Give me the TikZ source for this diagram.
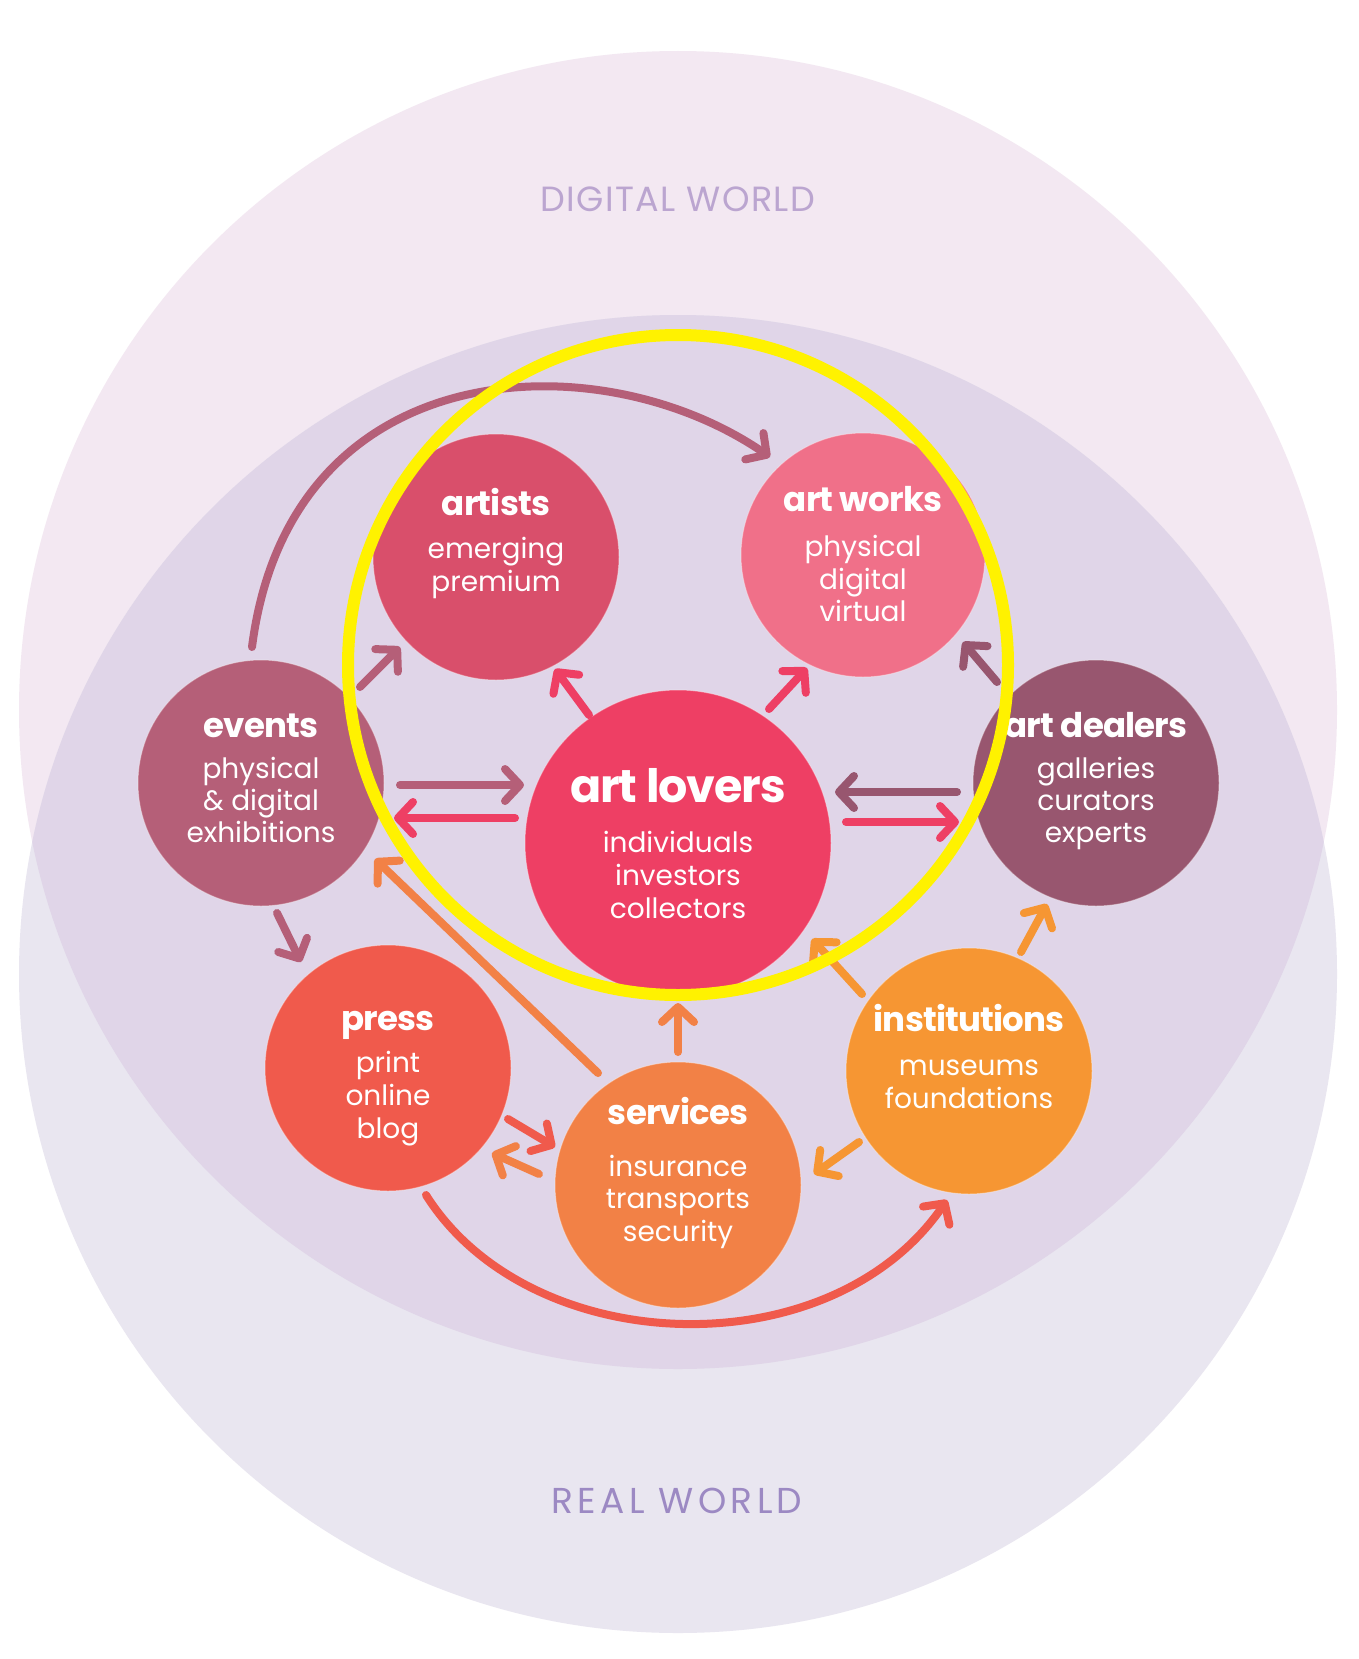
\documentclass[tikz,border=0pt]{standalone}
\usepackage{fontspec}
\setmainfont{Poppins}
\newfontfamily\wfont[LetterSpace=4]{Poppins}
\newfontfamily\rfont[LetterSpace=12]{Poppins}
\newfontfamily\ttlfam[LetterSpace=-2.5]{Poppins}
\usetikzlibrary{arrows.meta,calc}
\definecolor{cUp}{HTML}{F3E8F2}
\definecolor{cLow}{HTML}{E9E6F0}
\definecolor{cMid}{HTML}{E0D5E8}
\definecolor{cArtists}{HTML}{D94F6B}
\definecolor{cWorks}{HTML}{F07089}
\definecolor{cEvents}{HTML}{B55F78}
\definecolor{cLovers}{HTML}{EE3F64}
\definecolor{cDealers}{HTML}{98566F}
\definecolor{cPress}{HTML}{F05A4C}
\definecolor{cServ}{HTML}{F28146}
\definecolor{cInst}{HTML}{F69633}
\definecolor{cYel}{HTML}{FFF200}
\definecolor{cDig}{HTML}{BBA5D0}
\definecolor{cReal}{HTML}{9C89C3}
\newcommand\myttlfont{\ttlfam\bfseries\fontsize{34}{40}\selectfont}
\newcommand\mysubfont{\fontsize{28}{33}\selectfont}
\newcommand\mybigfont{\ttlfam\bfseries\fontsize{46}{52}\selectfont}
\tikzset{
  bub/.style={circle, inner sep=0pt, minimum size=#1, draw=white, draw opacity=0.35, line width=1pt},
  ttl/.style={anchor=base, text=white, inner sep=0pt, font=\myttlfont},
  bigttl/.style={anchor=base, text=white, inner sep=0pt, font=\mybigfont},
  sub/.style={anchor=base, text=white, inner sep=0pt, font=\mysubfont},
  world/.style={anchor=base, inner sep=0pt, font=\wfont\fontsize{35}{40}\selectfont},
  rworld/.style={anchor=base, inner sep=0pt, font=\rfont\fontsize{36}{40}\selectfont},
  arr/.style={line width=8pt, line cap=round, -{Straight Barb[length=15pt,width=32pt,round]}},
}
\begin{document}
\begin{tikzpicture}[x=1pt,y=-1pt]
\useasboundingbox (0,0) rectangle (1358,1659);
\fill[white] (0,0) rectangle (1358,1659);
% worlds
\fill[cUp] (678,710) circle[radius=659pt];
\fill[cLow] (678,974) circle[radius=659pt];
\begin{scope}
  \clip (678,710) circle[radius=659pt];
  \fill[cMid] (678,974) circle[radius=659pt];
\end{scope}
\node[world, text=cDig] (digital) at (678,211) {DIGITAL WORLD};
\node[rworld, text=cReal] (real) at (677,1513) {REAL WORLD};

% bubbles
\node[bub=246pt, fill=cArtists] (artists) at (496,557) {};
\node[bub=244pt, fill=cWorks] (works) at (863,555) {};
\node[bub=246pt, fill=cEvents] (events) at (261,783) {};
\node[bub=306pt, fill=cLovers] (lovers) at (678,843) {};
\node[bub=246pt, fill=cDealers] (dealers) at (1096,783) {};
\node[bub=246pt, fill=cPress] (press) at (388,1068) {};
\node[bub=246pt, fill=cServ] (services) at (678,1185) {};
\node[bub=246pt, fill=cInst] (inst) at (969,1071) {};

% texts
\node[ttl] (artists-t) at (496,515) {artists};
\node[sub] (artists-1) at (496,558) {emerging};
\node[sub] (artists-2) at (496,591) {premium};

\node[ttl] (works-t) at (863,511) {art works};
\node[sub] (works-1) at (863,556) {physical};
\node[sub] (works-2) at (863,589) {digital};
\node[sub] (works-3) at (863,621) {virtual};

\node[ttl] (events-t) at (261,737) {events};
\node[sub] (events-1) at (261,778) {physical};
\node[sub] (events-2) at (261,810) {\& digital};
\node[sub] (events-3) at (261,842) {exhibitions};

\node[bigttl] (lovers-t) at (678,802) {art lovers};
\node[sub] (lovers-1) at (678,852) {individuals};
\node[sub] (lovers-2) at (678,885) {investors};
\node[sub] (lovers-3) at (678,918) {collectors};

\node[ttl] (dealers-t) at (1096,737) {art dealers};
\node[sub] (dealers-1) at (1096,778) {galleries};
\node[sub] (dealers-2) at (1096,810) {curators};
\node[sub] (dealers-3) at (1096,842) {experts};

\node[ttl] (press-t) at (388,1030) {press};
\node[sub] (press-1) at (388,1072) {print};
\node[sub] (press-2) at (388,1105) {online};
\node[sub] (press-3) at (388,1138) {blog};

\node[ttl] (services-t) at (678,1124) {services};
\node[sub] (services-1) at (678,1176) {insurance};
\node[sub] (services-2) at (678,1208) {transports};
\node[sub] (services-3) at (678,1241) {security};

\node[ttl] (inst-t) at (969,1031) {institutions};
\node[sub] (inst-1) at (969,1075) {museums};
\node[sub] (inst-2) at (969,1108) {foundations};

% arrows
\draw[arr, cEvents] ($(events)+(-9,-136)$) .. controls ($(events)+(29,-433)$) and ($(works)+(-263,-215)$) .. ($(works)+(-93,-98)$);
\draw[arr, cEvents] ($(events)+(99,-96)$) -- ($(artists)+(-96,90)$);
\draw[arr, cEvents] ($(events)+(139,2)$) -- ($(lovers)+(-154,-58)$);
\draw[arr, cLovers] ($(lovers)+(-163,-25)$) -- ($(events)+(133,35)$);
\draw[arr, cLovers] ($(lovers)+(-89,-128)$) -- ($(artists)+(59,112)$);
\draw[arr, cLovers] ($(lovers)+(91,-134)$) -- ($(works)+(-56,113)$);
\draw[arr, cDealers] ($(dealers)+(-99,-101)$) -- ($(works)+(100,87)$);
\draw[arr, cDealers] ($(dealers)+(-139,9)$) -- ($(lovers)+(157,-51)$);
\draw[arr, cLovers] ($(lovers)+(168,-21)$) -- ($(dealers)+(-137,39)$);
\draw[arr, cEvents] ($(events)+(16,130)$) -- ($(press)+(-87,-106)$);
\draw[arr, cServ] ($(services)+(-80,-112)$) -- ($(events)+(114,76)$);
\draw[arr, cServ] ($(services)+(0,-133)$) -- ($(lovers)+(0,160)$);
\draw[arr, cInst] ($(inst)+(-107,-77)$) -- ($(lovers)+(134,96)$);
\draw[arr, cInst] ($(inst)+(52,-119)$) -- ($(dealers)+(-49,121)$);
\draw[arr, cInst] ($(inst)+(-110,71)$) -- ($(services)+(136,-11)$);
\draw[arr, cPress] ($(press)+(120,51)$) -- ($(services)+(-123,-38)$);
\draw[arr, cServ] ($(services)+(-139,-11)$) -- ($(press)+(104,85)$);
\draw[arr, cPress] ($(press)+(38,127)$) .. controls ($(press)+(142,292)$) and ($(inst)+(-139,299)$) .. ($(inst)+(-22,129)$);

% highlight ring
\draw[cYel, line width=12pt] (678,665) circle[radius=330pt];
\end{tikzpicture}
\end{document}
